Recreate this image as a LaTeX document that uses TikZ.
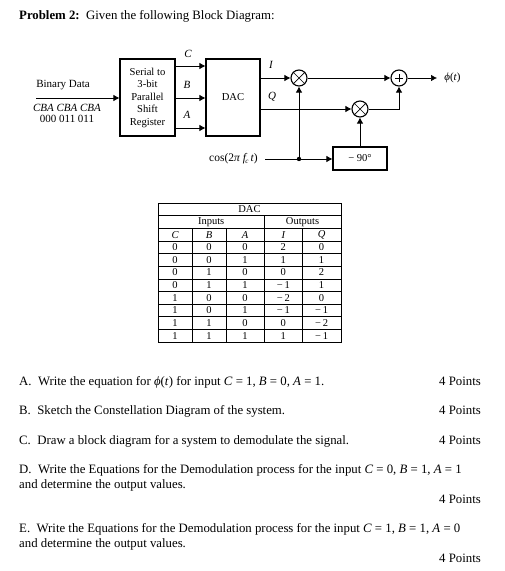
\documentclass[tikz,border=0pt]{standalone}
\usepackage{fontspec}
\setmainfont{Liberation Serif}
\usetikzlibrary{arrows.meta}
\newcommand{\minusx}{\char"2212\,}
\newcommand{\phisym}{\textit{\char"03D5}}
\tikzset{
  x=1pt,y=-1pt,
  block/.style={draw,line width=1.1pt,inner sep=0pt,align=center,font=\fontsize{10.6}{12.5}\selectfont},
  mixer/.style={draw,circle,line width=1.1pt,minimum size=16pt,inner sep=0pt},
  lbl/.style={inner sep=0pt,font=\fontsize{11}{12}\selectfont},
  ilbl/.style={inner sep=0pt,font=\itshape\fontsize{11}{12}\selectfont},
  cell/.style={inner sep=0pt,font=\fontsize{10.5}{12}\selectfont},
  icell/.style={inner sep=0pt,font=\itshape\fontsize{10.5}{12}\selectfont},
  qtext/.style={inner sep=0pt,anchor=base west,font=\fontsize{12.8}{15}\selectfont},
  pts/.style={inner sep=0pt,anchor=base east,font=\fontsize{12.8}{15}\selectfont},
  flow/.style={line width=0.7pt,-{Latex[length=6pt,width=6.5pt]}},
  tline/.style={line width=0.6pt}
}
\begin{document}
\begin{tikzpicture}
\useasboundingbox (0,0) rectangle (504,571);
\fill[white] (0,0) rectangle (504,571);
% title
\node[qtext] (title) at (19,19) {\textbf{Problem 2:}\ \ Given the following Block Diagram:};
% blocks
\node[block,minimum width=55pt,minimum height=77pt] (sr) at (147.5,97.5) {Serial to\\3-bit\\Parallel\\Shift\\Register};
\node[block,minimum width=54pt,minimum height=77pt] (dac) at (233,97.5) {DAC};
\node[mixer] (m1) at (299,78) {};
\node[mixer] (add) at (399,78) {};
\node[mixer] (m2) at (360,109) {};
\draw[line width=0.7pt] (m1.45)--(m1.225) (m1.135)--(m1.315);
\draw[line width=0.7pt] (m2.45)--(m2.225) (m2.135)--(m2.315);
\draw[line width=0.7pt] (399,74)--(399,82) (395,78)--(403,78);
\node[block,minimum width=54pt,minimum height=23pt] (ph) at (360,158.5) {\char"2212\ 90°};
% free ends
\coordinate (in) at (36,98);
\coordinate (cosl) at (265,159);
\coordinate (out) at (437,78);
\coordinate (dot) at (299,159);
\fill (dot) circle (2.2pt);
% connectors
\draw[flow] (in) -- (sr.west |- in);
\draw[flow] (sr.east |- 0,66) -- (dac.west |- 0,66);
\draw[flow] (sr.east |- 0,98) -- (dac.west |- 0,98);
\draw[flow] (sr.east |- 0,128) -- (dac.west |- 0,128);
\draw[flow] (dac.east |- m1) -- (m1);
\draw[flow] (m1) -- (add);
\draw[flow] (dac.east |- m2) -- (m2);
\draw[flow] (add) -- (out);
\draw[flow] (m2.east) -| (add.south);
\draw[flow] (cosl) -- (ph.west |- cosl);
\draw[flow] (dot) -- (m1.south);
\draw[flow] (ph.north) -- (m2.south);
% labels
\node[lbl] (ldata) at (63,85) {Binary Data};
\node[ilbl] (lcba) at (67,107.7) {CBA CBA CBA};
\node[lbl] (lbits) at (67,119) {000 011 011};
\node[ilbl] (lc) at (188,54) {C};
\node[ilbl] (lb) at (187,85) {B};
\node[ilbl] (la) at (187,115) {A};
\node[ilbl] (li) at (271,65) {I};
\node[ilbl] (lq) at (272,97) {Q};
\node[lbl] (lphi) at (452.5,78) {\phisym(\textit{t})};
\node[lbl,font=\fontsize{11.5}{12}\selectfont] (lcos) at (233.5,159) {cos(2\textit{π f\kern-0.5pt\raisebox{-1.5pt}{\scriptsize c}\,t})};
% table
\draw[tline] (158,203) rectangle (341,342);
\foreach \y in {215.6,228.3,240.9,253.5,266.2,278.8,291.5,304.1,316.7,329.4}
  \draw[tline] (158,\y) -- (341,\y);
\draw[tline] (264.3,215.6) -- (264.3,342);
\foreach \x in {192.3,226,302.3}
  \draw[tline] (\x,228.3) -- (\x,342);
\node[cell] (tdac) at (249.5,209.3) {DAC};
\node[cell] (tin) at (211.2,222) {Inputs};
\node[cell] (tout) at (302.6,222) {Outputs};
\foreach \x/\t in {175.1/C,209.1/B,245.1/A,283.3/I,321.6/Q}
  \node[icell] at (\x,234.6) {\t};
\foreach \r/\c/\b/\a/\i/\q in {
  0/0/0/0/2/0,
  1/0/0/1/1/1,
  2/0/1/0/0/2,
  3/0/1/1/\minusx 1/1,
  4/1/0/0/\minusx 2/0,
  5/1/0/1/\minusx 1/\minusx 1,
  6/1/1/0/0/\minusx 2,
  7/1/1/1/1/\minusx 1}{
  \pgfmathsetmacro{\yy}{247.2+\r*12.64}
  \node[cell] at (175.1,\yy) {\c};
  \node[cell] at (209.1,\yy) {\b};
  \node[cell] at (245.1,\yy) {\a};
  \node[cell] at (283.3,\yy) {\i};
  \node[cell] at (321.6,\yy) {\q};
}
% questions
\node[qtext] (qa) at (19,385) {A.\ \ Write the equation for \phisym(\textit{t}) for input \textit{C} = 1, \textit{B} = 0, \textit{A} = 1.};
\node[pts] (pa) at (481,385) {4 Points};
\node[qtext] (qb) at (19,414) {B.\ \ Sketch the Constellation Diagram of the system.};
\node[pts] (pb) at (481,414) {4 Points};
\node[qtext] (qc) at (19,444) {C.\ \ Draw a block diagram for a system to demodulate the signal.};
\node[pts] (pc) at (481,444) {4 Points};
\node[qtext] (qd) at (19,473) {D.\ \ Write the Equations for the Demodulation process for the input \textit{C} = 0, \textit{B} = 1, \textit{A} = 1};
\node[qtext] (qd2) at (19,488) {and determine the output values.};
\node[pts] (pd) at (481,503) {4 Points};
\node[qtext] (qe) at (19,532) {E.\ \ Write the Equations for the Demodulation process for the input \textit{C} = 1, \textit{B} = 1, \textit{A} = 0};
\node[qtext] (qe2) at (19,547) {and determine the output values.};
\node[pts] (pe) at (481,562) {4 Points};
\end{tikzpicture}
\end{document}
